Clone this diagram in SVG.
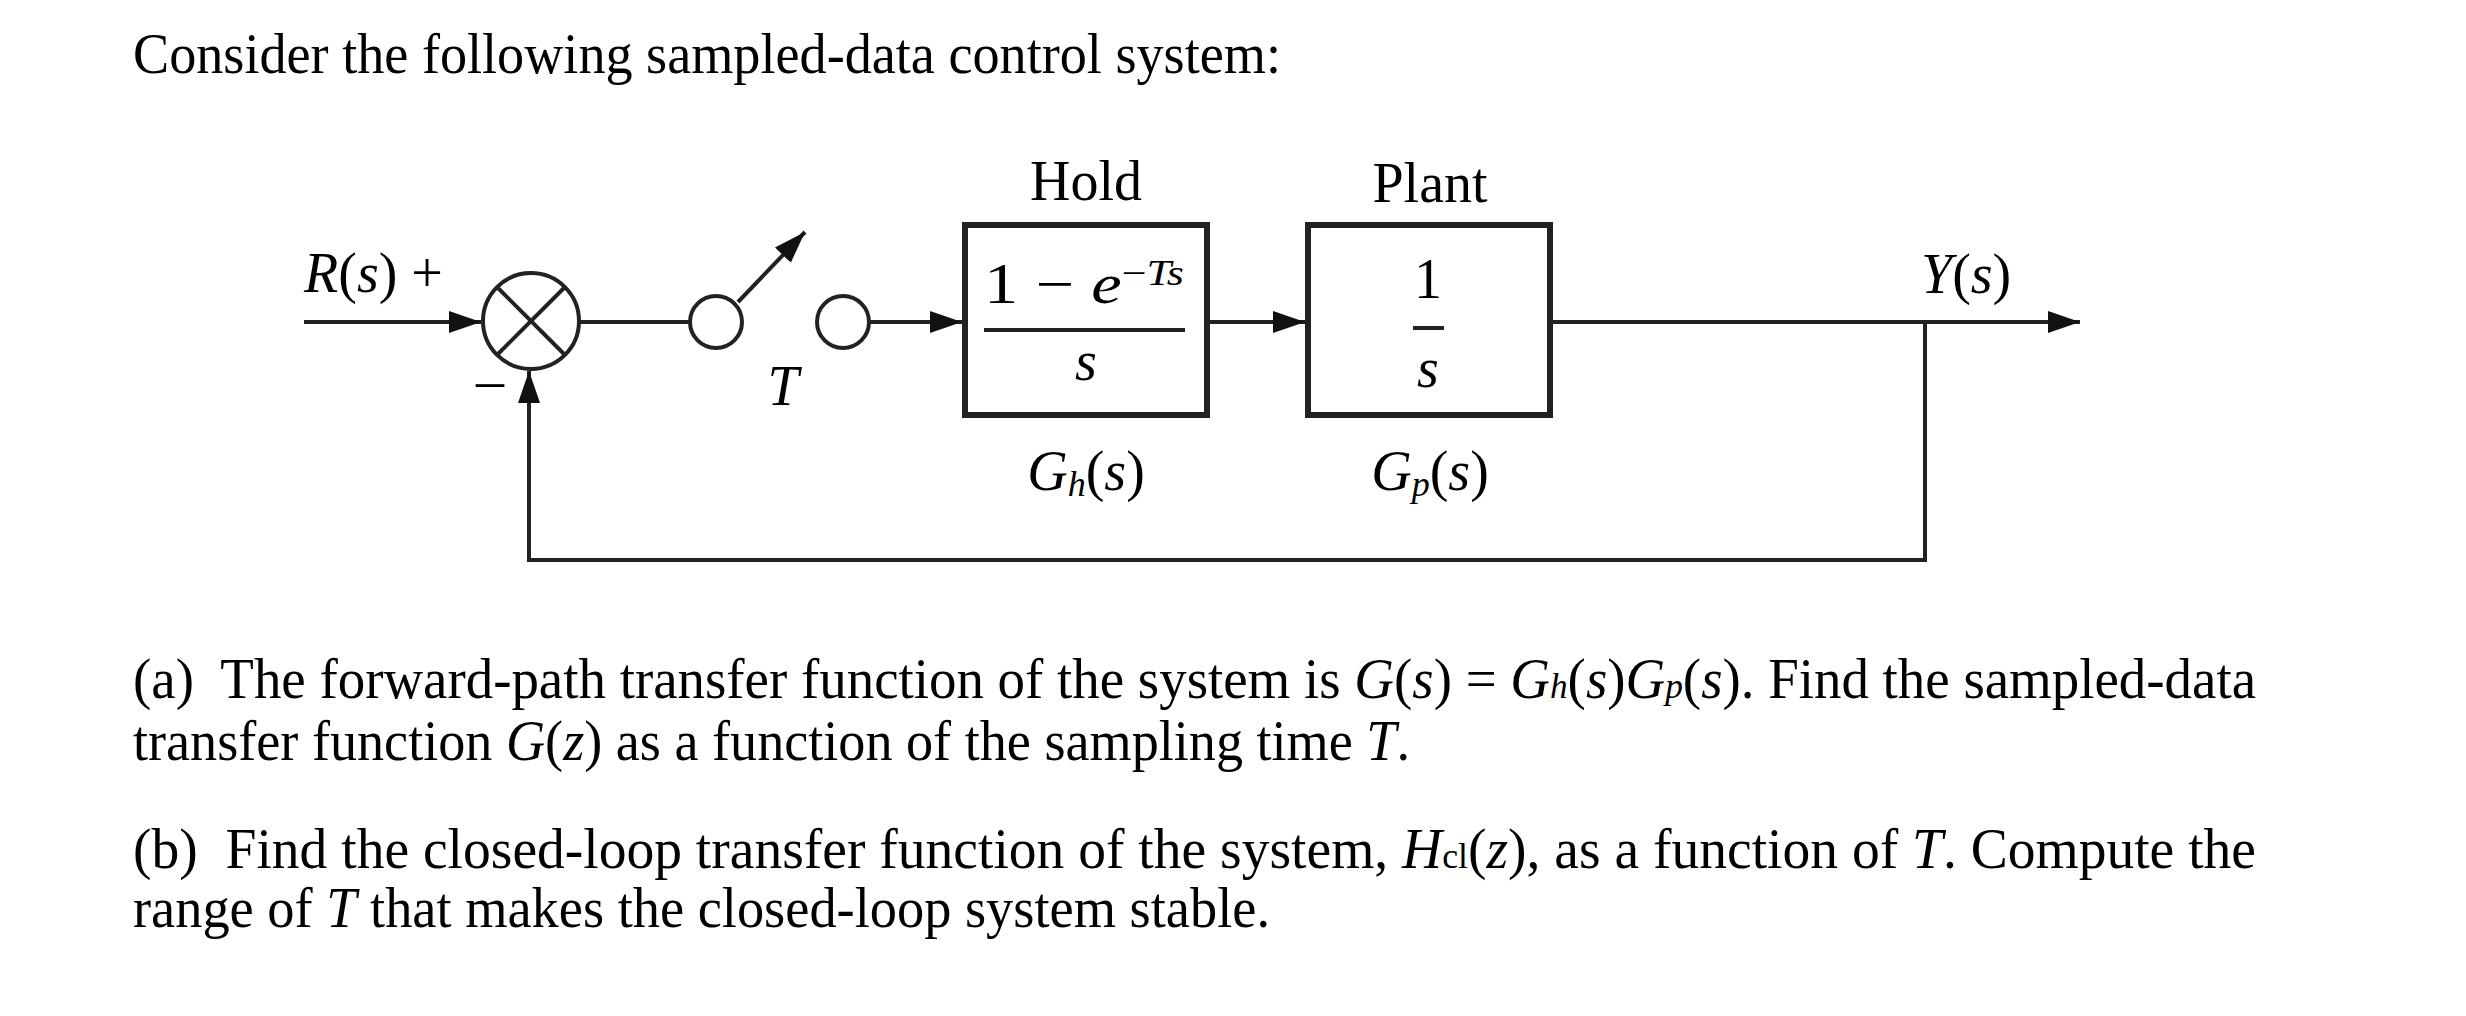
<svg xmlns="http://www.w3.org/2000/svg" width="2466" height="1016" viewBox="0 0 2466 1016">
<style>
.t{font-family:"Liberation Serif","Times New Roman",serif;font-size:56px;fill:#000}
.i{font-style:italic}
.sub{font-size:36px;font-style:italic}
.ln{fill:none;stroke:#222;stroke-width:4}
.box{fill:#fff;stroke:#222;stroke-width:6}
</style>
<defs>
<marker id="ar" markerUnits="userSpaceOnUse" markerWidth="34" markerHeight="22" refX="32" refY="11" orient="auto">
<path d="M0,0 L32,11 L0,22 z" fill="#111"/>
</marker>
</defs>
<rect width="2466" height="1016" fill="#fff"/>
<text class="t" x="133" y="73" textLength="1148" lengthAdjust="spacingAndGlyphs">Consider the following sampled-data control system:</text>

<g id="connectors">
<line class="ln" x1="304" y1="322" x2="481" y2="322" marker-end="url(#ar)"/>
<line class="ln" x1="579" y1="322" x2="690" y2="322"/>
<line class="ln" x1="738" y1="302" x2="805" y2="232" marker-end="url(#ar)"/>
<line class="ln" x1="869" y1="322" x2="962" y2="322" marker-end="url(#ar)"/>
<line class="ln" x1="1207" y1="322" x2="1305" y2="322" marker-end="url(#ar)"/>
<line class="ln" x1="1550" y1="322" x2="2080" y2="322" marker-end="url(#ar)"/>
<polyline class="ln" points="1925,322 1925,560 529,560 529,371" marker-end="url(#ar)"/>
</g>

<g id="sum">
<circle cx="531" cy="321" r="48" fill="#fff" stroke="#222" stroke-width="4"/>
<line class="ln" x1="497" y1="287" x2="565" y2="355"/>
<line class="ln" x1="565" y1="287" x2="497" y2="355"/>
<text class="t" x="304" y="292"><tspan class="i">R</tspan>(<tspan class="i">s</tspan>) +</text>
<text class="t" x="476" y="399" fill="#555">–</text>
</g>

<g id="sampler">
<circle cx="716" cy="322" r="26" fill="#fff" stroke="#222" stroke-width="4"/>
<circle cx="843" cy="322" r="26" fill="#fff" stroke="#222" stroke-width="4"/>
<text class="t i" x="783" y="405" text-anchor="middle">T</text>
</g>

<g id="hold">
<text class="t" x="1086" y="200" text-anchor="middle">Hold</text>
<rect class="box" x="965" y="225" width="242" height="190"/>
<text class="t" x="984" y="303" font-size="48" textLength="200" lengthAdjust="spacingAndGlyphs">1 − <tspan class="i">e</tspan><tspan font-size="36" dy="-18">−<tspan class="i">Ts</tspan></tspan></text>
<line x1="984" y1="330" x2="1185" y2="330" stroke="#222" stroke-width="4"/>
<text class="t i" x="1086" y="380" text-anchor="middle" font-size="48">s</text>
<text class="t" x="1086" y="490" text-anchor="middle"><tspan class="i">G</tspan><tspan class="sub" dy="6">h</tspan><tspan dy="-6">(</tspan><tspan class="i">s</tspan>)</text>
</g>

<g id="plant">
<text class="t" x="1430" y="202" text-anchor="middle">Plant</text>
<rect class="box" x="1308" y="225" width="242" height="190"/>
<text class="t" x="1428" y="298" text-anchor="middle" font-size="48">1</text>
<line x1="1413" y1="328" x2="1444" y2="328" stroke="#222" stroke-width="4"/>
<text class="t i" x="1428" y="387" text-anchor="middle" font-size="48">s</text>
<text class="t" x="1430" y="490" text-anchor="middle"><tspan class="i">G</tspan><tspan class="sub" dy="6">p</tspan><tspan dy="-6">(</tspan><tspan class="i">s</tspan>)</text>
</g>

<g id="output">
<text class="t" x="1921" y="293"><tspan class="i">Y</tspan>(<tspan class="i">s</tspan>)</text>
</g>

<text class="t" x="133" y="698" textLength="2123" lengthAdjust="spacingAndGlyphs">(a)&#160; The forward-path transfer function of the system is <tspan class="i">G</tspan>(<tspan class="i">s</tspan>) = <tspan class="i">G</tspan><tspan class="sub">h</tspan>(<tspan class="i">s</tspan>)<tspan class="i">G</tspan><tspan class="sub">p</tspan>(<tspan class="i">s</tspan>). Find the sampled-data</text>
<text class="t" x="133" y="760" textLength="1277" lengthAdjust="spacingAndGlyphs">transfer function <tspan class="i">G</tspan>(<tspan class="i">z</tspan>) as a function of the sampling time <tspan class="i">T</tspan>.</text>
<text class="t" x="133" y="868" textLength="2123" lengthAdjust="spacingAndGlyphs">(b)&#160; Find the closed-loop transfer function of the system, <tspan class="i">H</tspan><tspan font-size="36">cl</tspan>(<tspan class="i">z</tspan>), as a function of <tspan class="i">T</tspan>. Compute the</text>
<text class="t" x="133" y="927" textLength="1137" lengthAdjust="spacingAndGlyphs">range of <tspan class="i">T</tspan> that makes the closed-loop system stable.</text>
</svg>
